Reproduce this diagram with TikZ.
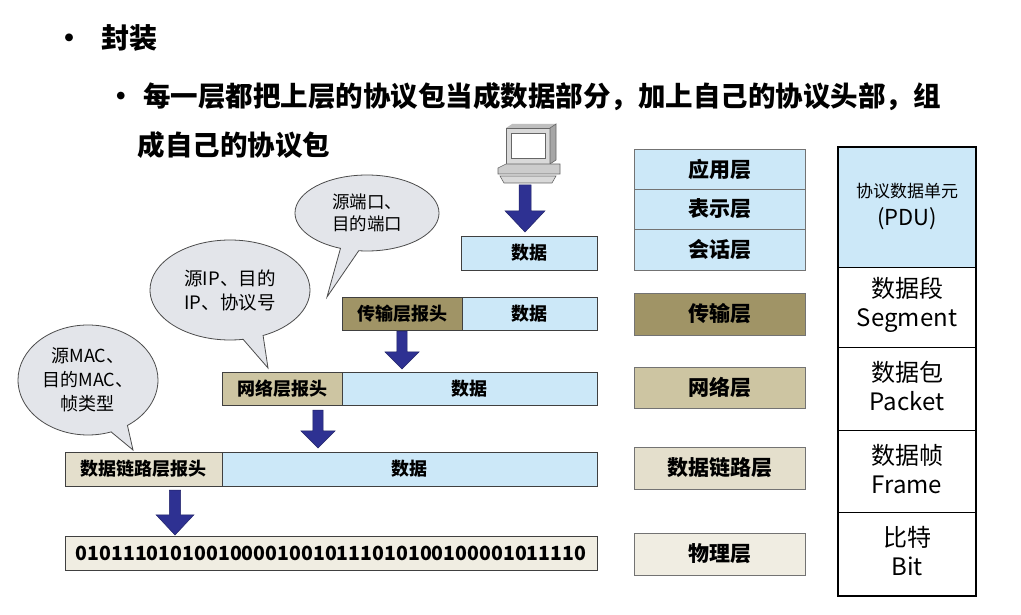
\documentclass[tikz,border=0pt]{standalone}
\usepackage{fontspec}
\setmainfont{Noto Sans CJK SC}
\usetikzlibrary{shapes.callouts}
\definecolor{dblue}{HTML}{CCE8F8}
\definecolor{olive1}{HTML}{A09466}
\definecolor{olive2}{HTML}{CDC5A2}
\definecolor{olive3}{HTML}{E4DFCC}
\definecolor{olive4}{HTML}{F0EDE2}
\definecolor{arr}{HTML}{2E3192}
\definecolor{bub}{HTML}{E3E5EA}
\tikzset{
  cell/.style={draw=black!75,line width=1pt,inner sep=0pt,font=\bfseries\fontsize{18}{20}\selectfont},
  lay/.style={draw=black!55,line width=0.8pt,inner sep=0pt,font=\bfseries\fontsize{21}{24}\selectfont},
  pdu/.style={font=\fontsize{24}{29}\selectfont,align=center},
  bubble/.style={ellipse callout,draw=black!70,fill=bub,line width=0.8pt,align=center,font=\fontsize{17.5}{22}\selectfont,inner sep=0pt},
  darr/.style={fill=arr,draw=arr!70!black,line width=0.5pt},
}
\newcommand{\downarr}[4]{% x, ytop, ybottom, halfwidth
  \path[darr] ({#1-#4*0.3},#2) -- ({#1+#4*0.3},#2) -- ({#1+#4*0.3},{#3-(#3-#2)*0.45}) -- ({#1+#4},{#3-(#3-#2)*0.45}) -- (#1,#3) -- ({#1-#4},{#3-(#3-#2)*0.45}) -- ({#1-#4*0.3},{#3-(#3-#2)*0.45}) -- cycle;}
\begin{document}
\begin{tikzpicture}[x=1pt,y=-1pt]
\useasboundingbox (0,0) rectangle (1021,615);
\fill[white] (0,0) rectangle (1021,615);
% titles
\node[font=\bfseries\fontsize{28}{32}\selectfont,anchor=west] (b1) at (52,38) {•\hspace{18pt}封装};
\node[font=\bfseries\fontsize{27.5}{32}\selectfont,anchor=west] (b2) at (104,97) {•\hspace{8pt}每一层都把上层的协议包当成数据部分，加上自己的协议头部，组};
\node[font=\bfseries\fontsize{27.5}{32}\selectfont,anchor=west] (b3) at (134,145) {成自己的协议包};
% computer
\begin{scope}[line width=0.6pt,draw=black!60]
\fill[black!25] (506,128) -- (512,124) -- (556,124) -- (550,128) -- cycle;
\filldraw[fill=black!15] (506,128) rectangle (550,164);
\filldraw[fill=black!35] (550,128) -- (556,124) -- (556,160) -- (550,164) -- cycle;
\filldraw[fill=white] (511,133) rectangle (545,158);
\filldraw[fill=black!20] (498,168) -- (506,164) -- (560,164) -- (560,174) -- (498,174) -- cycle;
\filldraw[fill=black!15] (500,176) -- (556,176) -- (552,183) -- (504,183) -- cycle;
\end{scope}
\downarr{525}{185}{232}{20}
% boxes
\node[cell,fill=dblue,minimum width=136pt,minimum height=34pt] (d1) at (529,253) {数据};
\node[cell,fill=olive1,minimum width=120pt,minimum height=33pt] (h2) at (402,313.5) {传输层报头};
\node[cell,fill=dblue,minimum width=135pt,minimum height=33pt] (d2) at (529.5,313.5) {数据};
\downarr{402}{331}{369}{17}
\node[cell,fill=olive2,minimum width=120pt,minimum height=33pt] (h3) at (282,388.5) {网络层报头};
\node[cell,fill=dblue,minimum width=255pt,minimum height=33pt] (d3) at (469.5,388.5) {数据};
\downarr{318}{410}{448}{17}
\node[cell,fill=olive3,minimum width=157pt,minimum height=34pt] (h4) at (143.5,469) {数据链路层报头};
\node[cell,fill=dblue,minimum width=375pt,minimum height=34pt] (d4) at (409.5,469) {数据};
\downarr{175}{490}{535}{19}
\node[cell,fill=olive4,minimum width=532pt,minimum height=34pt,font=\bfseries\fontsize{19.5}{22}\selectfont] (bits) at (331,553) {0101110101001000010010111010100100001011110};
% bubbles
\node[bubble,minimum width=144pt,minimum height=76pt,callout absolute pointer={(327,297)}] (c1) at (367,213) {源端口、\\目的端口};
\node[bubble,minimum width=160pt,minimum height=100pt,callout absolute pointer={(268,368)},font=\fontsize{18.5}{24}\selectfont] (c2) at (230,290) {源IP、目的\\IP、协议号};
\node[bubble,minimum width=140pt,minimum height=110pt,callout absolute pointer={(133,450)},font=\fontsize{18}{24}\selectfont] (c3) at (88,380) {源MAC、\\目的MAC、\\帧类型};
% layers
\node[lay,fill=dblue,minimum width=171pt,minimum height=40pt] (L7) at (719.5,169) {应用层};
\node[lay,fill=dblue,minimum width=171pt,minimum height=40pt] (L6) at (719.5,209) {表示层};
\node[lay,fill=dblue,minimum width=171pt,minimum height=41pt] (L5) at (719.5,249.5) {会话层};
\node[lay,fill=olive1,minimum width=171pt,minimum height=42pt] (L4) at (719.5,314) {传输层};
\node[lay,fill=olive2,minimum width=171pt,minimum height=41pt] (L3) at (719.5,387.5) {网络层};
\node[lay,fill=olive3,minimum width=171pt,minimum height=42pt] (L2) at (719.5,468) {数据链路层};
\node[lay,fill=olive4,minimum width=171pt,minimum height=42pt] (L1) at (719.5,554) {物理层};
% PDU column
\fill[dblue] (838,147) rectangle (976,267);
\draw[line width=1pt] (838,267) -- (976,267) (838,347) -- (976,347) (838,430) -- (976,430) (838,512) -- (976,512);
\draw[line width=2.5pt] (838,147) rectangle (976,596);
\node[font=\fontsize{17}{22}\selectfont,align=center] (p0) at (907,207) {协议数据单元\\[6pt]{\fontsize{22}{26}\selectfont (PDU)}};
\node[pdu] (p4) at (907,305) {数据段\\Segment};
\node[pdu] (p3) at (907,386) {数据包\\Packet};
\node[pdu] (p2) at (907,469) {数据帧\\Frame};
\node[pdu] (p1) at (907,551) {比特\\Bit};
\end{tikzpicture}
\end{document}
